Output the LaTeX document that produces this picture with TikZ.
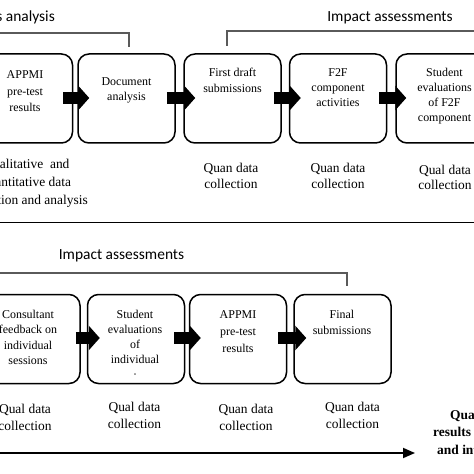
\documentclass[tikz,border=0pt]{standalone}
\usepackage{fontspec}
\setmainfont{Liberation Serif}
\newfontfamily\headsans{Carlito}
\usetikzlibrary{calc,arrows.meta}
\definecolor{brk}{HTML}{5A5A5A}
\begin{document}
\begin{tikzpicture}[x=1bp,y=-1bp,
  box/.style={draw=black, line width=1.5bp, rounded corners=11bp, minimum width=97bp, minimum height=89bp, inner sep=0pt},
  boxtext/.style={align=center, inner sep=0pt, anchor=north},
  lbl/.style={align=center, inner sep=0pt, anchor=north},
  headtxt/.style={font=\headsans\fontsize{15.5}{18}\selectfont, inner sep=0pt},
  bracket/.style={draw=brk, line width=1.4bp},
  flow/.style={line width=12bp, -{Triangle[length=11bp,width=24bp]}},
  timeline/.style={draw=black, line width=1.8bp}
]
\useasboundingbox (0,0) rectangle (474,474);
\clip (0,0) rectangle (474,474);
\fill[white] (0,0) rectangle (474,474);

% ---------- top row ----------
\node[headtxt, anchor=base east] (hneeds) at (55,21.5) {Needs analysis};
\node[headtxt, anchor=base] (himp1) at (390,21.5) {Impact assessments};
\coordinate (k1a) at (0,33); \coordinate (k1b) at (129,33); \coordinate (k1c) at (129,47);
\draw[bracket] (k1a) -- (k1b) -- (k1c);
\coordinate (k2a) at (227,46); \coordinate (k2b) at (227,31); \coordinate (k2c) at (474,31);
\draw[bracket] (k2a) -- (k2b) -- (k2c);

\node[box] (b1) at (24,98.5) {};
\node[box] (b2) at (126.5,98.5) {};
\node[box] (b3) at (232.5,98.5) {};
\node[box] (b4) at (338,98.5) {};
\node[box] (b5) at (444.5,98.5) {};

\node[boxtext, font=\fontsize{12}{17}\selectfont] (t1) at (25,70) {APPMI\\pre-test\\results};
\node[boxtext, font=\fontsize{12}{16}\selectfont] (t2) at (126.5,77) {Document\\analysis};
\node[boxtext, font=\fontsize{12}{16}\selectfont] (t3) at (232.5,68) {First draft\\submissions};
\node[boxtext, font=\fontsize{12}{15}\selectfont] (t4) at (338,68) {F2F\\component\\activities};
\node[boxtext, font=\fontsize{12}{15}\selectfont] (t5) at (444.5,68) {Student\\evaluations\\of F2F\\component};

\draw[flow] ($(b1.east)+(-10,-0.5)$) -- ($(b2.west)+(12,-0.5)$);
\draw[flow] ($(b2.east)+(-9,-0.5)$) -- ($(b3.west)+(12,-0.5)$);
\draw[flow] ($(b3.east)+(-8,-0.5)$) -- ($(b4.west)+(12,-0.5)$);
\draw[flow] ($(b4.east)+(-8,-0.5)$) -- ($(b5.west)+(11,-0.5)$);

\node[lbl, font=\fontsize{13.5}{18}\selectfont] (l1) at (26.5,158.7) {Qualitative\ \ and\\quantitative data\\collection and analysis};
\node[lbl, font=\fontsize{13.5}{16}\selectfont] (l3) at (231,162.7) {Quan data\\collection};
\node[lbl, font=\fontsize{13.5}{16}\selectfont] (l4) at (338,162.7) {Quan data\\collection};
\node[lbl, font=\fontsize{13.5}{16}\selectfont] (l5) at (445,164.5) {Qual data\\collection};

\coordinate (tl1a) at (0,222.5); \coordinate (tl1b) at (474,222.5);
\draw[timeline] (tl1a) -- (tl1b);

% ---------- bottom row ----------
\node[headtxt, anchor=base] (himp2) at (121.5,259.5) {Impact assessments};
\coordinate (k3a) at (0,273); \coordinate (k3b) at (347,273); \coordinate (k3c) at (347,286);
\draw[bracket] (k3a) -- (k3b) -- (k3c);

\node[box] (b6) at (31.5,339) {};
\node[box] (b7) at (136,339) {};
\node[box] (b8) at (238,339) {};
\node[box] (b9) at (342.5,339) {};

\node[boxtext, font=\fontsize{12}{15.5}\selectfont] (t6) at (28,310) {Consultant\\feedback on\\individual\\sessions};
\node[boxtext, font=\fontsize{12}{15}\selectfont] (t7) at (135,310) {Student\\evaluations\\of\\individual\\·};
\node[boxtext, font=\fontsize{12}{17.5}\selectfont] (t8) at (238,310) {APPMI\\pre-test\\results};
\node[boxtext, font=\fontsize{12}{16}\selectfont] (t9) at (342,310) {Final\\submissions};

\draw[flow] ($(b6.east)+(-5,-1)$) -- ($(b7.west)+(13,-1)$);
\draw[flow] ($(b7.east)+(-11,-1)$) -- ($(b8.west)+(12,-1)$);
\draw[flow] ($(b8.east)+(-9,-1)$) -- ($(b9.west)+(13,-1)$);

\node[lbl, font=\fontsize{13.5}{17}\selectfont] (l6) at (25,403.7) {Qual data\\collection};
\node[lbl, font=\fontsize{13.5}{17}\selectfont] (l7) at (134.5,401.7) {Qual data\\collection};
\node[lbl, font=\fontsize{13.5}{17}\selectfont] (l8) at (246,403.7) {Quan data\\collection};
\node[lbl, font=\fontsize{13.5}{17}\selectfont] (l9) at (352.5,401.7) {Quan data\\collection};

\coordinate (tl2a) at (0,453); \coordinate (tl2b) at (415,453);
\draw[timeline, -{Triangle[length=12bp,width=10bp]}] (tl2a) -- (tl2b);

\node[align=left, inner sep=0pt, anchor=north west, font=\bfseries\fontsize{13.5}{17.5}\selectfont] (res) at (433,409.7)
  {\hspace*{17bp}Quan and Qual\\results integration\\\hspace*{4bp}and interpretation};
\end{tikzpicture}
\end{document}
